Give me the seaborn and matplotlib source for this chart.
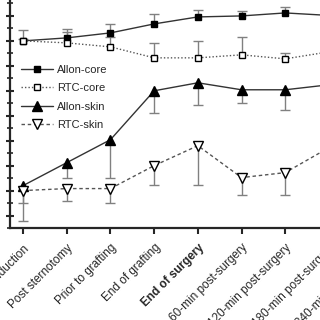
import numpy as np
import matplotlib
matplotlib.use("Agg")
import matplotlib.pyplot as plt
import seaborn as sns

# time points on the x axis
timepoints = ["Induction", "Post sternotomy", "Prior to grafting", "End of grafting",
              "End of surgery", "60-min post-surgery", "120-min post-surgery",
              "180-min post-surgery", "240-min post-surgery"]

# temperatures (mean) and one-sided error bars
allon_core = [37.00, 37.12, 37.32, 37.68, 37.96, 38.00, 38.12, 38.02, 37.96]
allon_core_err = [0.44, 0.36, 0.36, 0.40, 0.28, 0.20, 0.24, 0.25, 0.25]
rtc_core = [37.00, 36.92, 36.76, 36.32, 36.32, 36.44, 36.28, 36.56, 36.64]
rtc_core_err = [0.08, 0.44, 0.40, 0.60, 0.68, 0.72, 0.24, 0.40, 0.40]
allon_skin = [31.20, 32.12, 33.04, 35.00, 35.32, 35.04, 35.04, 35.24, 35.44]
allon_skin_err = [0.68, 0.60, 1.52, 0.88, 0.88, 0.52, 0.80, 0.70, 0.70]
rtc_skin = [31.00, 31.08, 31.08, 32.00, 32.80, 31.52, 31.72, 32.72, 33.44]
rtc_skin_err = [1.20, 0.48, 0.56, 0.76, 1.56, 0.68, 0.88, 0.80, 0.80]
ytick_values = [30, 31, 32, 33, 34, 35, 36, 37, 38, 39]

sns.set_style("ticks")
plt.rcParams["font.family"] = ["Liberation Sans", "DejaVu Sans"]

fig = plt.figure(figsize=(3.2, 3.2), dpi=100)
# the reference is a crop of a bigger figure: axes run past the right and top edges
ax = fig.add_axes([10 / 320, 92 / 320, 390 / 320, 248 / 320])

x = np.arange(len(timepoints))

series = [
    ("Allon-core", allon_core, allon_core_err, +1, "s", "black", "-", "#333333", 5),
    ("RTC-core", rtc_core, rtc_core_err, +1, "s", "white", (0, (1, 1.5)), "#555555", 5),
    ("Allon-skin", allon_skin, allon_skin_err, -1, "^", "black", "-", "#333333", 6.5),
    ("RTC-skin", rtc_skin, rtc_skin_err, -1, "v", "white", (0, (2.5, 2)), "#555555", 6.5),
]

for label, vals, err, side, mk, face, ls, col, ms in series:
    vals = np.array(vals)
    err = np.array(err)
    end = vals + side * err
    ax.vlines(x, np.minimum(vals, end), np.maximum(vals, end), color="#808080", lw=1, zorder=1)
    ax.plot(x, end, marker="_", linestyle="none", color="#808080", markersize=7,
            markeredgewidth=1, zorder=1)
    sns.lineplot(x=x, y=vals, ax=ax, marker=mk, markersize=ms, markerfacecolor=face,
                 markeredgecolor="black", markeredgewidth=1, color=col, linestyle=ls,
                 linewidth=1, label=label, zorder=3)

ax.set_xlim(-0.3, (400 - 23) / 43.7)
ax.set_ylim(29.52, 39.44)
ax.set_yticks(ytick_values)
ax.set_yticks(np.arange(29.5, 39.5, 0.5), minor=True)
ax.set_xticks(x)
ax.set_xticklabels(timepoints, rotation=45, ha="right", rotation_mode="anchor", fontsize=8.5)
for t in ax.get_xticklabels():
    if t.get_text() == "End of surgery":
        t.set_fontweight("bold")
ax.tick_params(axis="y", direction="inout", length=6, width=1.5, labelsize=8.5)
ax.tick_params(axis="y", which="minor", direction="inout", length=5, width=1.2)
ax.tick_params(axis="x", direction="out", length=4, width=1.5, pad=6)
for side in ["left", "bottom"]:
    ax.spines[side].set_linewidth(1.6)
sns.despine(ax=ax, top=True, right=True)
ax.set_xlabel("")
ax.set_ylabel("")

ax.legend(loc="upper left", bbox_to_anchor=(21 / 320, 1 - 65 / 320),
          bbox_transform=fig.transFigure, frameon=False, fontsize=8,
          handlelength=2.9, handletextpad=0.36, labelspacing=0.75,
          borderpad=0, borderaxespad=0)

fig.savefig("out.png", dpi=100)
